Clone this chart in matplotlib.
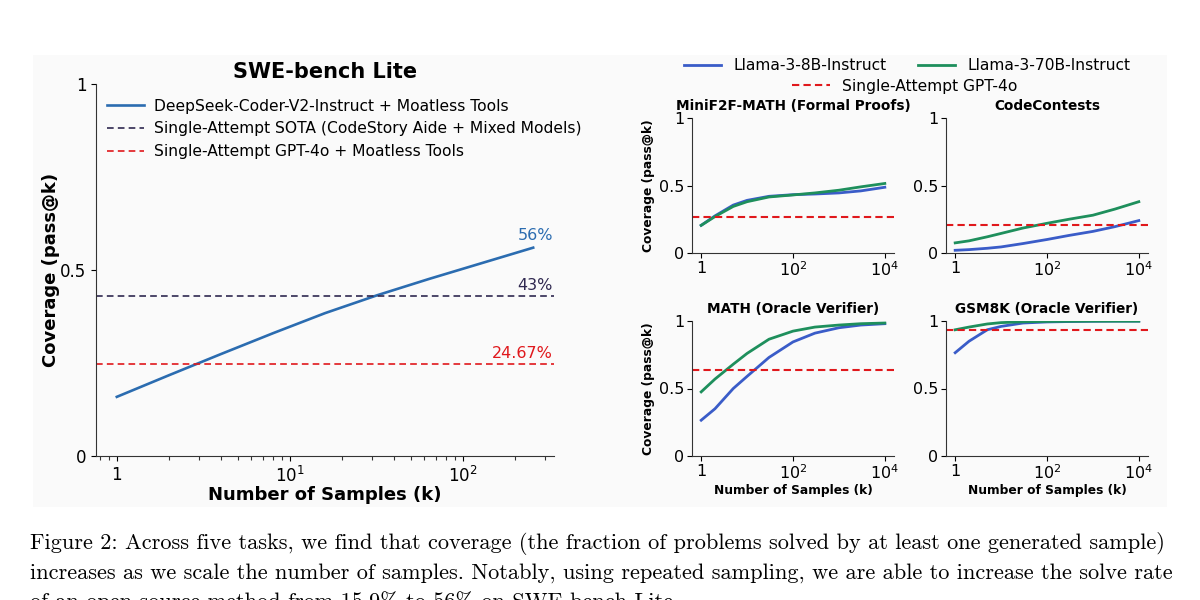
import matplotlib
matplotlib.use("Agg")
import matplotlib.pyplot as plt
from matplotlib.patches import Rectangle
from matplotlib.lines import Line2D
from matplotlib.ticker import NullLocator, FixedLocator, FixedFormatter

# ---------------- data ----------------
swe_k = [1, 2, 4, 8, 16, 32, 64, 128, 256]
swe_cov = [0.159, 0.217, 0.274, 0.330, 0.384, 0.432, 0.476, 0.518, 0.560]
swe_sota = 0.43
swe_gpt4o = 0.2467
swe_labels = ["56%", "43%", "24.67%"]

task_k = [1, 2, 5, 10, 30, 100, 300, 1000, 3000, 10000]
minif2f_8b = [0.205, 0.275, 0.355, 0.390, 0.420, 0.432, 0.437, 0.445, 0.460, 0.487]
minif2f_70b = [0.205, 0.270, 0.345, 0.380, 0.415, 0.430, 0.445, 0.465, 0.490, 0.515]
minif2f_gpt4o = 0.27
code_8b = [0.020, 0.025, 0.035, 0.045, 0.070, 0.100, 0.130, 0.160, 0.195, 0.240]
code_70b = [0.075, 0.090, 0.120, 0.145, 0.185, 0.220, 0.250, 0.280, 0.325, 0.380]
code_gpt4o = 0.21
math_8b = [0.265, 0.350, 0.500, 0.590, 0.730, 0.845, 0.910, 0.950, 0.970, 0.980]
math_70b = [0.475, 0.570, 0.680, 0.760, 0.865, 0.925, 0.955, 0.970, 0.980, 0.985]
math_gpt4o = 0.64
gsm_8b = [0.765, 0.850, 0.935, 0.960, 0.985, 0.993, 0.996, 0.998, 0.999, 0.999]
gsm_70b = [0.935, 0.955, 0.978, 0.988, 0.994, 0.997, 0.998, 0.999, 0.999, 0.999]
gsm_gpt4o = 0.93

task_titles = ["MiniF2F-MATH (Formal Proofs)", "CodeContests",
               "MATH (Oracle Verifier)", "GSM8K (Oracle Verifier)"]

caption_lines = [
    "Figure 2: Across five tasks, we find that coverage (the fraction of problems solved by at least one generated sample)",
    "increases as we scale the number of samples. Notably, using repeated sampling, we are able to increase the solve rate",
    "of an open-source method from 15.9% to 56% on SWE-bench Lite.",
]

# ---------------- style ----------------
C_SWE = "#2b6cb0"
C_SOTA = "#2f2850"
C_RED = "#e0181c"
C_8B = "#3a5cc8"
C_70B = "#1e8f5c"

W, H = 1200, 600
fig = plt.figure(figsize=(12, 6), dpi=100)
fig.patch.set_facecolor("white")

def fx(px):
    return px / W

def fy(py):
    return 1 - py / H

# faint grey backdrop of the figure image
fig.patches.append(Rectangle((fx(33), fy(507)), fx(1167) - fx(33), fy(55) - fy(507),
                             transform=fig.transFigure, facecolor="#fafafa",
                             edgecolor="none", zorder=-10))

def style_axes(ax):
    ax.set_facecolor("none")
    ax.spines["top"].set_visible(False)
    ax.spines["right"].set_visible(False)
    for s in ("left", "bottom"):
        ax.spines[s].set_color("#333333")

# ---------------- left panel ----------------
axL = fig.add_axes([fx(96), fy(456), fx(554) - fx(96), fy(84) - fy(456)])
style_axes(axL)
axL.plot(swe_k, swe_cov, color=C_SWE, lw=1.9,
         label="DeepSeek-Coder-V2-Instruct + Moatless Tools")
axL.axhline(swe_sota, color=C_SOTA, lw=1.2, ls=(0, (4, 2.5)),
            label="Single-Attempt SOTA (CodeStory Aide + Mixed Models)")
axL.axhline(swe_gpt4o, color=C_RED, lw=1.2, ls=(0, (4, 2.5)),
            label="Single-Attempt GPT-4o + Moatless Tools")
axL.set_xscale("log")
axL.set_ylim(0, 1)
axL.set_yticks([0, 0.5, 1])
axL.set_yticklabels(["0", "0.5", "1"])
axL.xaxis.set_major_locator(FixedLocator([1, 10, 100]))
axL.xaxis.set_major_formatter(FixedFormatter(["1", "$10^1$", "$10^2$"]))
minor_pos = [m * d for d in (0.1, 1, 10, 100) for m in range(2, 10)]
axL.xaxis.set_minor_locator(FixedLocator(minor_pos))
axL.xaxis.set_minor_formatter(FixedFormatter([""] * len(minor_pos)))
axL.tick_params(labelsize=12)
axL.tick_params(axis="x", which="minor", length=3, width=0.8, color="#333333")
axL.set_title("SWE-bench Lite", fontsize=15, fontweight="bold", pad=4)
axL.set_xlabel("Number of Samples (k)", fontsize=13, fontweight="bold", labelpad=0)
axL.set_ylabel("Coverage (pass@k)", fontsize=13, fontweight="bold", labelpad=0)
axL.legend(loc="upper left", bbox_to_anchor=(0.0, 0.99), frameon=False,
           fontsize=11.2, handlelength=2.4, handletextpad=0.6,
           labelspacing=0.5, borderaxespad=0.3)
xr = swe_k[-1] * 1.3
axL.text(xr, swe_cov[-1] + 0.012, swe_labels[0], color=C_SWE, ha="right",
         va="bottom", fontsize=11.5)
axL.text(xr, swe_sota + 0.008, swe_labels[1], color=C_SOTA, ha="right",
         va="bottom", fontsize=11.5)
axL.text(xr, swe_gpt4o + 0.008, swe_labels[2], color=C_RED, ha="right",
         va="bottom", fontsize=11.5)

# ---------------- right panels ----------------
panels = [
    (692, 118, minif2f_8b, minif2f_70b, minif2f_gpt4o),
    (946, 118, code_8b, code_70b, code_gpt4o),
    (692, 321, math_8b, math_70b, math_gpt4o),
    (946, 321, gsm_8b, gsm_70b, gsm_gpt4o),
]
pw, ph = 202, 135
for i, (x0, y0, s8, s70, g4) in enumerate(panels):
    ax = fig.add_axes([fx(x0), fy(y0 + ph), fx(pw), ph / H])
    style_axes(ax)
    ax.plot(task_k, s8, color=C_8B, lw=2.0)
    ax.plot(task_k, s70, color=C_70B, lw=2.0)
    ax.axhline(g4, color=C_RED, lw=1.5, ls=(0, (3.5, 2)))
    ax.set_xscale("log")
    ax.set_ylim(0, 1)
    ax.set_yticks([0, 0.5, 1])
    ax.set_yticklabels(["0", "0.5", "1"])
    ax.xaxis.set_major_locator(FixedLocator([1, 100, 10000]))
    ax.xaxis.set_major_formatter(FixedFormatter(["1", "$10^2$", "$10^4$"]))
    ax.xaxis.set_minor_locator(NullLocator())
    ax.tick_params(labelsize=11.5, pad=2)
    ax.set_title(task_titles[i], fontsize=9.8, fontweight="bold", pad=6)
    if i % 2 == 0:
        ax.set_ylabel("Coverage (pass@k)", fontsize=8.8, fontweight="bold", labelpad=3)
    if i >= 2:
        ax.set_xlabel("Number of Samples (k)", fontsize=8.8, fontweight="bold", labelpad=1)

h8 = Line2D([], [], color=C_8B, lw=2.0)
h70 = Line2D([], [], color=C_70B, lw=2.0)
hg = Line2D([], [], color=C_RED, lw=1.5, ls=(0, (3.5, 2)))
leg1 = fig.legend([h8, h70], ["Llama-3-8B-Instruct", "Llama-3-70B-Instruct"],
                  loc="center", bbox_to_anchor=(fx(907), fy(66)), ncol=2,
                  frameon=False, fontsize=11.2, handlelength=2.4,
                  columnspacing=2.0, borderpad=0, borderaxespad=0)
leg2 = fig.legend([hg], ["Single-Attempt GPT-4o"], loc="center",
                  bbox_to_anchor=(fx(905), fy(86)), frameon=False,
                  fontsize=11.2, handlelength=2.4, borderpad=0, borderaxespad=0)

# ---------------- caption ----------------
cap_fam = ["cmr10", "DejaVu Serif"]
renderer = fig.canvas.get_renderer()
t0 = fig.text(fx(30), fy(549), caption_lines[0], fontsize=14, family=cap_fam,
              ha="left", va="baseline")
w0 = t0.get_window_extent(renderer).width
cap_size = 14 * (1133 / w0)
t0.set_fontsize(cap_size)
for line, yb in zip(caption_lines[1:], [579, 608]):
    fig.text(fx(30), fy(yb), line, fontsize=cap_size, family=cap_fam,
             ha="left", va="baseline")

fig.savefig("out.png", dpi=100, facecolor="white")
